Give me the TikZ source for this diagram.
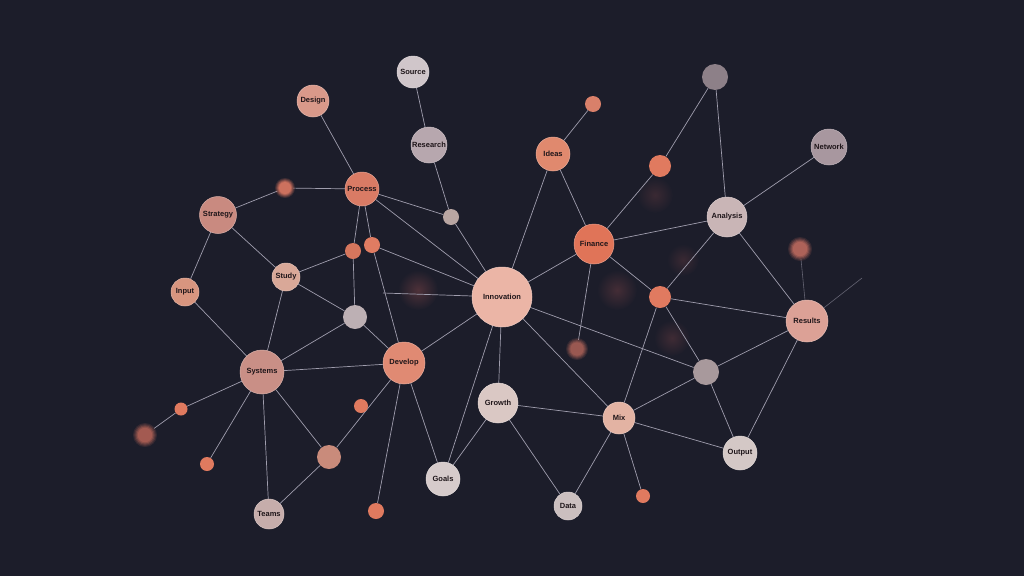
\documentclass[tikz,border=0pt]{standalone}
\usepackage{fontspec}
\setsansfont{Liberation Sans}
\usetikzlibrary{backgrounds}
\definecolor{bg}{HTML}{1C1D2A}
\definecolor{edge}{HTML}{A09EAE}
\definecolor{txt}{HTML}{1E1519}
\definecolor{cA}{HTML}{D0C6CA}
\definecolor{cB}{HTML}{D9998A}
\definecolor{cC}{HTML}{B7A7AE}
\definecolor{cD}{HTML}{D97B65}
\definecolor{cE}{HTML}{D0735F}
\definecolor{cF}{HTML}{C98A80}
\definecolor{cG}{HTML}{B9A6A2}
\definecolor{cH}{HTML}{D9A898}
\definecolor{cI}{HTML}{D8957F}
\definecolor{cJ}{HTML}{BDB0B4}
\definecolor{cK}{HTML}{D6765D}
\definecolor{cL}{HTML}{E07C62}
\definecolor{cM}{HTML}{EBB5A6}
\definecolor{cN}{HTML}{E0896E}
\definecolor{cO}{HTML}{D9806A}
\definecolor{cP}{HTML}{E07458}
\definecolor{cQ}{HTML}{E07A5F}
\definecolor{cR}{HTML}{8D8088}
\definecolor{cS}{HTML}{A8979F}
\definecolor{cT}{HTML}{C9B5B6}
\definecolor{cU}{HTML}{B0645A}
\definecolor{cV}{HTML}{E07A60}
\definecolor{cW}{HTML}{DCA196}
\definecolor{cX}{HTML}{A8999C}
\definecolor{cY}{HTML}{E08A73}
\definecolor{cZ}{HTML}{C98F86}
\definecolor{cAA}{HTML}{DAC8C4}
\definecolor{cAB}{HTML}{E3B3A3}
\definecolor{cAC}{HTML}{D4C8C6}
\definecolor{cAD}{HTML}{D6CBCB}
\definecolor{cAE}{HTML}{CBBFBF}
\definecolor{cAH}{HTML}{C6ADAB}
\definecolor{cAI}{HTML}{C98B7B}
\definecolor{coral}{HTML}{E07A5F}
\definecolor{cAM}{HTML}{A65C52}
\definecolor{cAN}{HTML}{9C5A52}
\definecolor{bok}{HTML}{4E3139}
\tikzset{
  nd/.style={circle, inner sep=0pt, text=txt, font=\sffamily\bfseries\fontsize{7.5}{8}\selectfont, draw=#1!70!white, line width=0.5pt, fill=#1},
  dot/.style={circle, inner sep=0pt, draw=none, fill=#1},
  ghost/.style={circle, inner sep=0pt, draw=none},
  ln/.style={draw=edge, line width=0.7pt},
  faint/.style={draw=edge!55!bg, line width=0.6pt}
}
\newcommand{\softblob}[4]{% center x, center y, radius, colour
  \foreach \k/\o in {1.0/0.18, 0.9/0.25, 0.8/0.35, 0.7/0.55, 0.6/0.9}{
    \fill[#4, opacity=\o] (#1,#2) circle ({#3*\k});
  }}
\begin{document}
\begin{tikzpicture}[x=1pt,y=-1pt]
\useasboundingbox (0,0) rectangle (1024,576);
% labelled nodes
\node[nd=cA, minimum size=32pt] (A) at (413,72) {Source};
\node[nd=cB, minimum size=32pt] (B) at (313,101) {Design};
\node[nd=cC, minimum size=36pt] (C) at (429,145) {Research};
\node[nd=cD, minimum size=34pt] (D) at (362,189) {Process};
\node[nd=cF, minimum size=37pt] (F) at (218,215) {Strategy};
\node[nd=cH, minimum size=28pt] (H) at (286,277) {Study};
\node[nd=cI, minimum size=28pt] (I) at (185,292) {Input};
\node[nd=cM, minimum size=60pt] (M) at (502,297) {Innovation};
\node[nd=cN, minimum size=34pt] (N) at (553,154) {Ideas};
\node[nd=cP, minimum size=40pt] (P) at (594,244) {Finance};
\node[nd=cS, minimum size=36pt] (S) at (829,147) {Network};
\node[nd=cT, minimum size=40pt] (T) at (727,217) {Analysis};
\node[nd=cW, minimum size=42pt] (W) at (807,321) {Results};
\node[nd=cY, minimum size=42pt] (Y) at (404,363) {Develop};
\node[nd=cZ, minimum size=44pt] (Z) at (262,372) {Systems};
\node[nd=cAA, minimum size=40pt] (AA) at (498,403) {Growth};
\node[nd=cAB, minimum size=32pt] (AB) at (619,418) {Mix};
\node[nd=cAC, minimum size=34pt] (AC) at (740,453) {Output};
\node[nd=cAD, minimum size=34pt] (AD) at (443,479) {Goals};
\node[nd=cAE, minimum size=28pt] (AE) at (568,506) {Data};
\node[nd=cAH, minimum size=30pt] (AH) at (269,514) {Teams};
% unlabelled nodes
\node[dot=cG, minimum size=16pt] (G) at (451,217) {};
\node[dot=cJ, minimum size=24pt] (J) at (355,317) {};
\node[dot=cK, minimum size=16pt] (K) at (353,251) {};
\node[dot=cL, minimum size=16pt] (L) at (372,245) {};
\node[dot=cO, minimum size=16pt] (O) at (593,104) {};
\node[dot=cQ, minimum size=22pt] (Q) at (660,166) {};
\node[dot=cR, minimum size=26pt] (R) at (715,77) {};
\node[dot=cV, minimum size=22pt] (V) at (660,297) {};
\node[dot=cX, minimum size=26pt] (X) at (706,372) {};
\node[dot=cAI, minimum size=24pt] (AI) at (329,457) {};
\node[dot=coral, minimum size=14pt] (AF) at (643,496) {};
\node[dot=coral, minimum size=16pt] (AG) at (376,511) {};
\node[dot=coral, minimum size=14pt] (AJ) at (361,406) {};
\node[dot=coral, minimum size=14pt] (AK) at (207,464) {};
\node[dot=coral, minimum size=13pt] (AL) at (181,409) {};
\node[ghost, minimum size=16pt] (E) at (285,188) {};
\node[ghost, minimum size=20pt] (U) at (800,249) {};
\node[ghost, minimum size=22pt] (AM) at (145,435) {};
\node[ghost, minimum size=18pt] (AN) at (577,349) {};
\coordinate (h1) at (383,293);
\coordinate (w1) at (862,278);
\begin{scope}[on background layer]
\fill[bg] (0,0) rectangle (1024,576);
% bokeh
\shade[inner color=bok, outer color=bg] (418,290) circle (20pt);
\shade[inner color=bok!80!bg, outer color=bg] (617,290) circle (20pt);
\shade[inner color=bok!70!bg, outer color=bg] (672,338) circle (18pt);
\shade[inner color=bok!60!bg, outer color=bg] (655,195) circle (18pt);
\shade[inner color=bok!60!bg, outer color=bg] (683,260) circle (16pt);
% edges
\draw[ln] (A) -- (C);
\draw[ln] (C) -- (G);
\draw[ln] (G) -- (M);
\draw[ln] (B) -- (D);
\draw[ln] (E) -- (D);
\draw[ln] (F) -- (E);
\draw[ln] (D) -- (G);
\draw[ln] (D) -- (M);
\draw[ln] (D) -- (K);
\draw[ln] (D) -- (L);
\draw[ln] (L) -- (M);
\draw[ln] (K) -- (J);
\draw[ln] (L) -- (Y);
\draw[ln] (h1) -- (M);
\draw[ln] (F) -- (H);
\draw[ln] (F) -- (I);
\draw[ln] (H) -- (K);
\draw[ln] (H) -- (J);
\draw[ln] (H) -- (Z);
\draw[ln] (I) -- (Z);
\draw[ln] (J) -- (Z);
\draw[ln] (J) -- (Y);
\draw[ln] (Z) -- (Y);
\draw[ln] (Z) -- (AL);
\draw[ln] (AL) -- (AM);
\draw[ln] (Z) -- (AK);
\draw[ln] (Z) -- (AH);
\draw[ln] (Z) -- (AI);
\draw[ln] (AI) -- (AH);
\draw[ln] (AI) -- (Y);
\draw[ln] (Y) -- (AG);
\draw[ln] (Y) -- (AD);
\draw[ln] (Y) -- (M);
\draw[ln] (M) -- (AD);
\draw[ln] (M) -- (AA);
\draw[ln] (M) -- (AB);
\draw[ln] (M) -- (X);
\draw[ln] (M) -- (N);
\draw[ln] (M) -- (P);
\draw[ln] (N) -- (O);
\draw[ln] (N) -- (P);
\draw[ln] (P) -- (Q);
\draw[ln] (Q) -- (R);
\draw[ln] (R) -- (T);
\draw[ln] (S) -- (T);
\draw[ln] (P) -- (T);
\draw[ln] (T) -- (V);
\draw[ln] (T) -- (W);
\draw[ln] (P) -- (V);
\draw[ln] (P) -- (AN);
\draw[ln] (V) -- (W);
\draw[ln] (V) -- (AB);
\draw[ln] (V) -- (X);
\draw[ln] (X) -- (W);
\draw[ln] (X) -- (AC);
\draw[ln] (W) -- (AC);
\draw[ln] (AB) -- (X);
\draw[ln] (AB) -- (AC);
\draw[ln] (AA) -- (AB);
\draw[ln] (AA) -- (AD);
\draw[ln] (AA) -- (AE);
\draw[ln] (AB) -- (AE);
\draw[ln] (AB) -- (AF);
\draw[faint] (U) -- (W);
\draw[faint] (W) -- (w1);
% soft (out of focus) nodes
\softblob{285}{188}{10}{cE}
\softblob{800}{249}{12}{cU}
\softblob{145}{435}{12}{cAM}
\softblob{577}{349}{11}{cAN}
\end{scope}
\end{tikzpicture}
\end{document}
